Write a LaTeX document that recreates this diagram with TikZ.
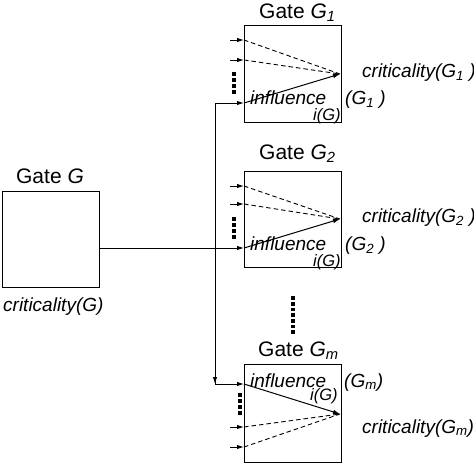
\documentclass[tikz,border=0pt]{standalone}
\usepackage{fontspec}
\setmainfont{Liberation Sans}
\usetikzlibrary{arrows.meta}
\begin{document}
\begin{tikzpicture}[x=1pt,y=-1pt,
  box/.style={draw, line width=1pt, minimum width=97pt, minimum height=97pt, anchor=north west, inner sep=0pt},
  arr/.style={-{Latex[length=7pt,width=4.5pt]}, line width=1pt},
  dsh/.style={dash pattern=on 4.5pt off 3pt, line width=0.9pt},
  dotsq/.style={fill=black, minimum size=3.6pt, inner sep=0pt},
  gl/.style={font=\fontsize{21}{24}\selectfont, inner sep=0pt, anchor=base west},
  il/.style={font=\fontsize{19}{22}\selectfont\itshape, inner sep=0pt, anchor=base west},
  sl/.style={font=\fontsize{16.5}{18}\selectfont\itshape, inner sep=0pt, anchor=base west}]
\useasboundingbox (0,0) rectangle (474,464);

% boxes
\node[box, minimum height=96pt] (g)  at (2,191) {};
\node[box] (g1) at (244,25) {};
\node[box, minimum height=96pt] (g2) at (244,171) {};
\node[box, minimum height=98pt] (gm) at (244,364) {};

% gate labels
\node[gl, anchor=base] (lg) at (50,183) {Gate \textit{G}};
\node[gl] (lg1) at (259,18) {Gate \textit{G\textsubscript{1}}};
\node[gl] (lg2) at (259,159) {Gate \textit{G\textsubscript{2}}};
\node[gl] (lgm) at (258,356) {Gate \textit{G\textsubscript{m}}};
\node[il] (cg) at (3,311) {criticality(G)};

% ---------- G1 ----------
\coordinate (c1) at (340,74);
\coordinate (a1s) at (230,40); \coordinate (a1) at (244,40);
\coordinate (b1s) at (230,60); \coordinate (b1) at (244,60);
\coordinate (i1) at (244,103);
\draw[arr] (a1s) -- (a1);
\draw[arr] (b1s) -- (b1);
\draw[dsh] (a1) -- (c1);
\draw[dsh] (b1) -- (c1);
\draw[arr] (i1) -- (c1);
\foreach \k in {0,1,2,3} \node[dotsq] (d1\k) at (234,{74+6*\k}) {};
\node[il] (cr1) at (362,77) {criticality(G\textsubscript{1} )};
\node[il] (in1) at (250,104) {influence};
\node[sl] (su1) at (313,120) {i(G)};
\node[il] (ar1) at (345,104) {(G\textsubscript{1} )};

% ---------- G2 ----------
\coordinate (c2) at (340,219);
\coordinate (a2s) at (230,186); \coordinate (a2) at (244,186);
\coordinate (b2s) at (230,204); \coordinate (b2) at (244,204);
\coordinate (i2) at (244,248);
\draw[arr] (a2s) -- (a2);
\draw[arr] (b2s) -- (b2);
\draw[dsh] (a2) -- (c2);
\draw[dsh] (b2) -- (c2);
\draw[arr] (i2) -- (c2);
\foreach \k in {0,1,2,3} \node[dotsq] (d2\k) at (234,{219+6*\k}) {};
\node[il] (cr2) at (362,222) {criticality(G\textsubscript{2} )};
\node[il] (in2) at (250,250) {influence};
\node[sl] (su2) at (313,266) {i(G)};
\node[il] (ar2) at (345,250) {(G\textsubscript{2} )};

% ---------- Gm ----------
\coordinate (cm) at (340,414);
\coordinate (im) at (244,384);
\coordinate (ams) at (230,427); \coordinate (am) at (244,427);
\coordinate (bms) at (230,447); \coordinate (bm) at (244,447);
\draw[arr] (ams) -- (am);
\draw[arr] (bms) -- (bm);
\draw[dsh] (am) -- (cm);
\draw[dsh] (bm) -- (cm);
\draw[arr] (im) -- (cm);
\foreach \k in {0,1,2,3} \node[dotsq] (dm\k) at (240,{395+6*\k}) {};
\node[il] (crm) at (362,433) {criticality(G\textsubscript{m})};
\node[il] (inm) at (250,387) {influence};
\node[sl] (sum) at (310,400) {i(G)};
\node[il] (arm) at (344,387) {(G\textsubscript{m})};

% vertical dots between G2 and Gm
\foreach \k in {0,...,6} \node[dotsq] (dv\k) at (293,{298+5.7*\k}) {};

% connections
\coordinate (jt) at (215,103);
\coordinate (jb) at (215,384);
\draw[line width=1pt] (g.east |- i2) -- (jt |- i2);
\draw[arr] (jt |- i2) -- (i2);
\draw[arr] (jt) -- (i1);
\draw[line width=1pt] (jt) -- (jb);
\draw[arr] (jt |- 0,360) -- (jb);
\draw[arr] (jb) -- (im);
\end{tikzpicture}
\end{document}
